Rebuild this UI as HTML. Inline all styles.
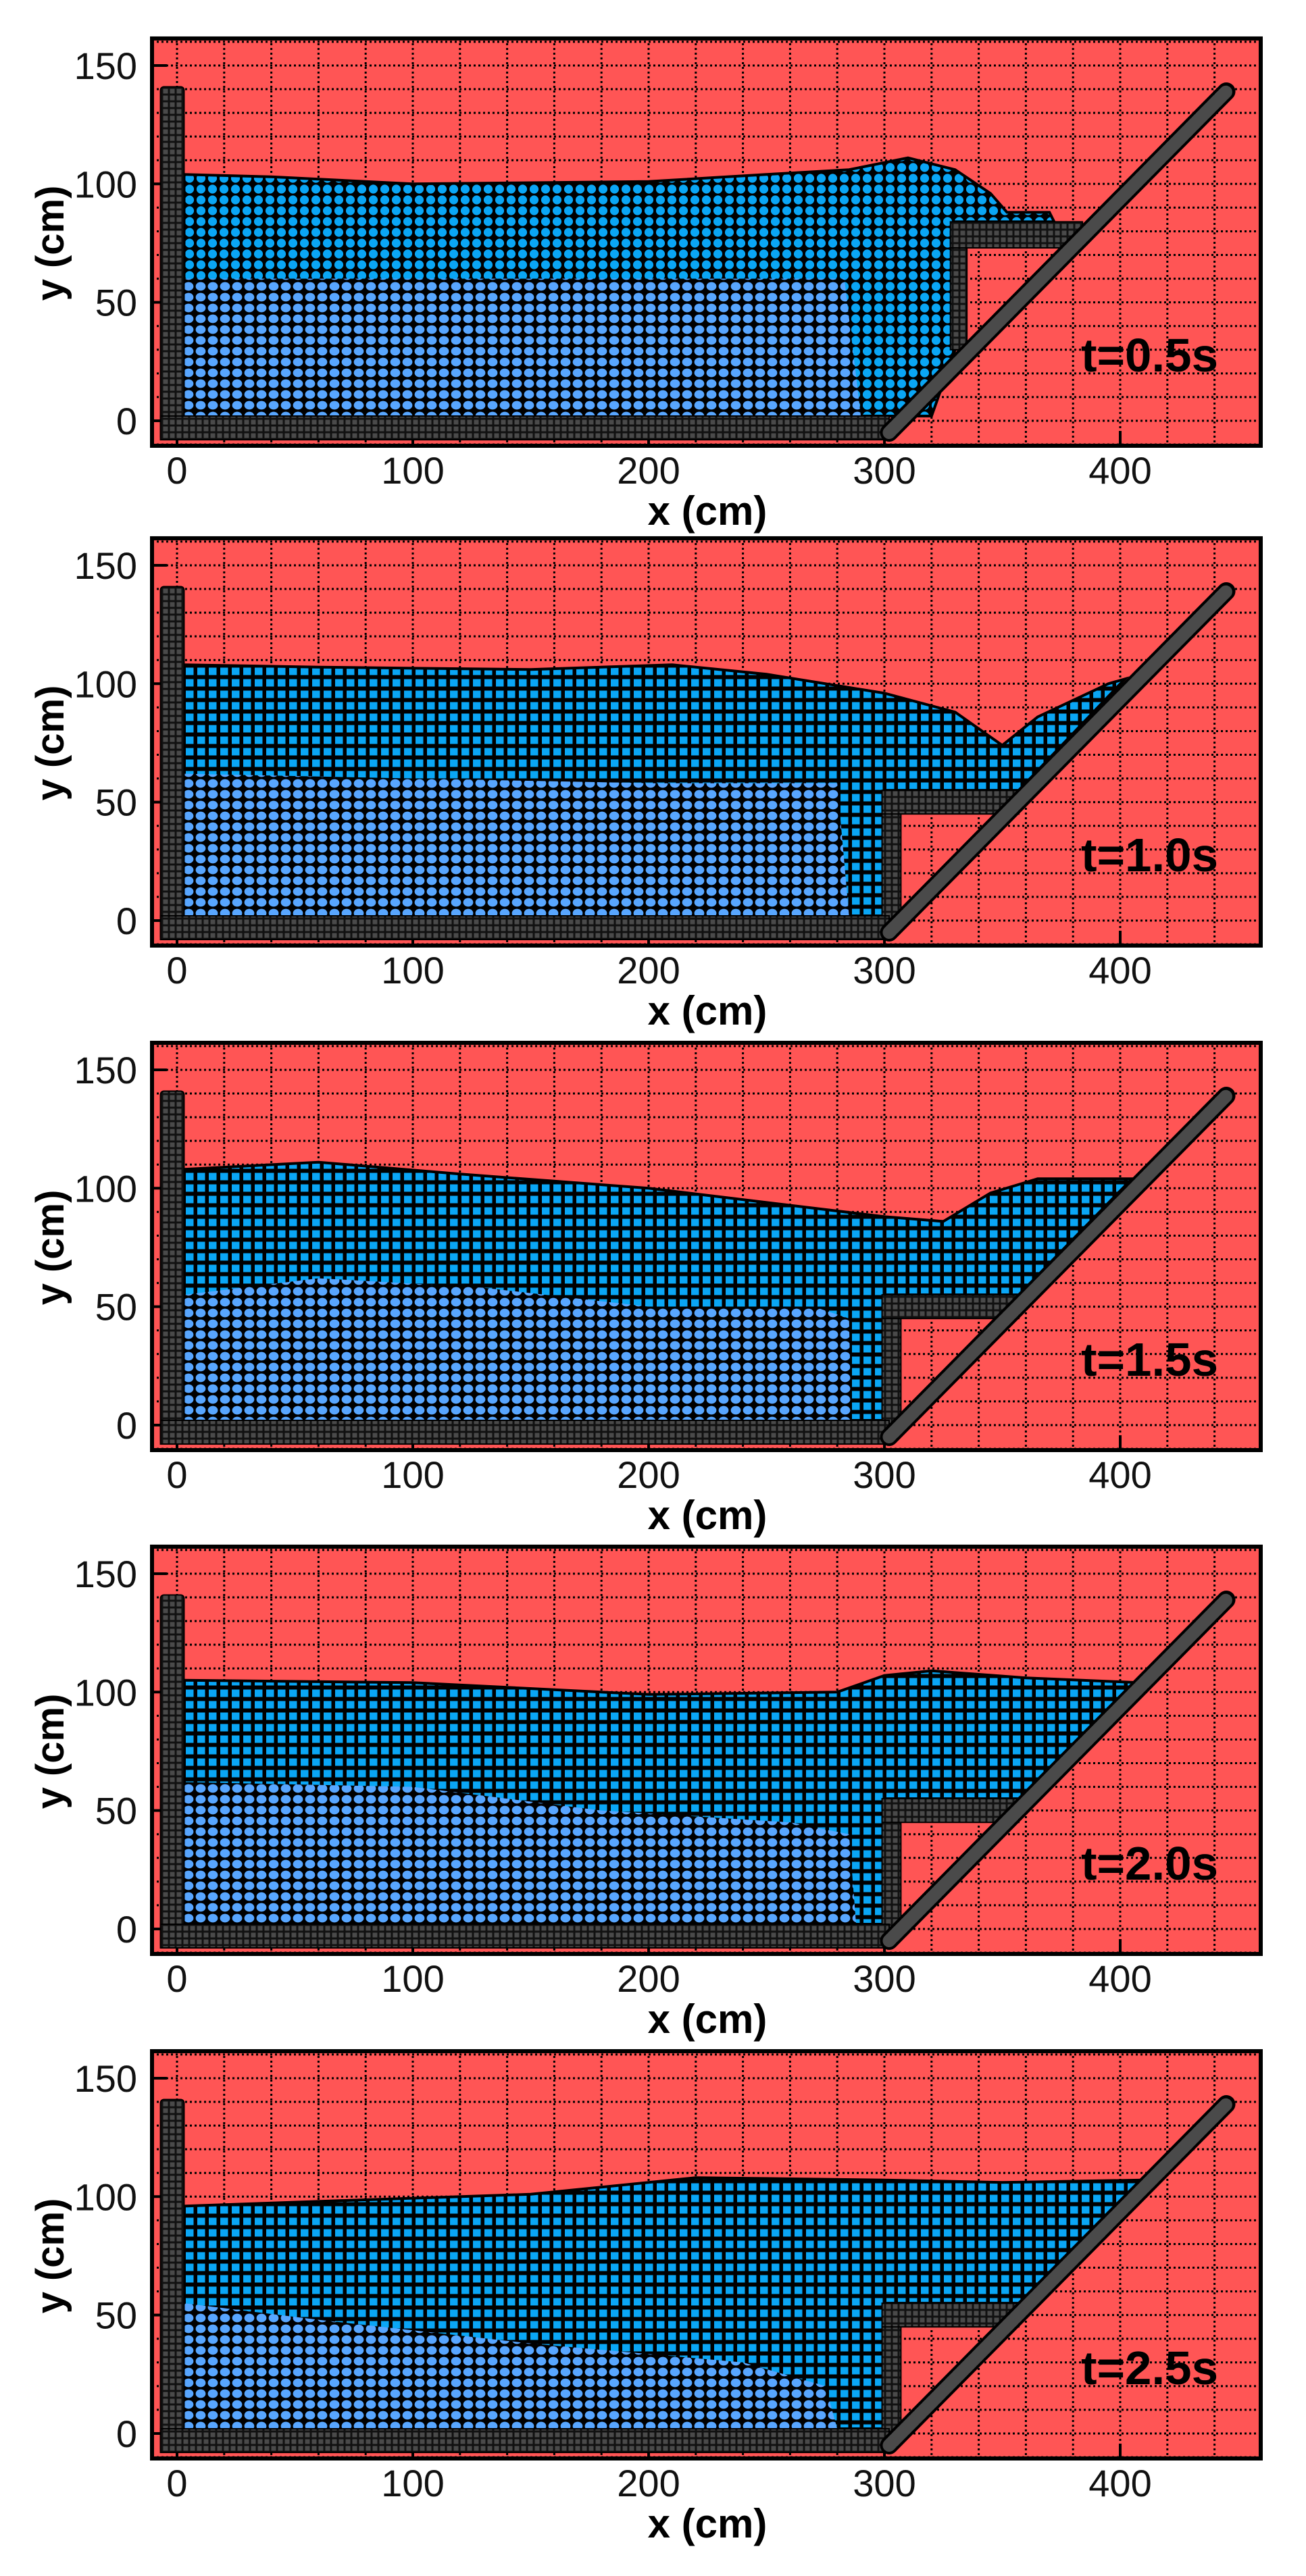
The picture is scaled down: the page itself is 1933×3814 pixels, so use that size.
<!DOCTYPE html>
<html><head><meta charset="utf-8"><style>
html,body{margin:0;padding:0;background:#fff}
svg{display:block}
text{font-family:"Liberation Sans",sans-serif}
</style></head><body>
<svg id="s" width="1933" height="3814" viewBox="0 0 1933 3814" xmlns="http://www.w3.org/2000/svg">
<defs>
<pattern id="sq" width="17" height="17" patternUnits="userSpaceOnUse">
<rect width="17" height="17" fill="#000"/><rect x="3" y="2.5" width="11.5" height="11" fill="#0aa6f5"/>
</pattern>
<pattern id="ci" width="18" height="16" patternUnits="userSpaceOnUse">
<rect width="18" height="16" fill="#000"/><ellipse cx="9" cy="8" rx="7.4" ry="6.4" fill="#58a6ff"/>
</pattern>
<pattern id="ci1" width="17" height="16" patternUnits="userSpaceOnUse">
<rect width="17" height="16" fill="#000"/><circle cx="8.5" cy="8" r="6.6" fill="#0aa6f5"/>
</pattern>
<pattern id="wl" width="10" height="10" patternUnits="userSpaceOnUse">
<rect width="10" height="10" fill="#111"/><rect x="1.5" y="1.5" width="7" height="7" fill="#4a4a4a"/>
</pattern>
</defs>
</svg>
<script>
var s=document.getElementById('s'),h='';
var Y0=[623,1363,2110,2856,3603];
var labels=['t=0.5s','t=1.0s','t=1.5s','t=2.0s','t=2.5s'];
var surf=[
 [[3,104],[40,103],[100,100],[200,101],[250,104],[285,106],[310,111],[330,106],[345,96],[352,88],[370,88],[372,84]],
 [[3,108],[60,107],[150,106],[210,108],[250,104],[300,96],[330,88],[350,74],[365,86],[395,100],[402,102]],
 [[3,108],[60,111],[120,106],[200,100],[250,94],[300,88],[325,86],[345,98],[365,104],[405,104]],
 [[3,105],[100,104],[200,99],[280,100],[300,107],[320,109],[360,106],[408,104]],
 [[3,96],[60,98],[150,101],[220,108],[300,107],[350,106],[410,107]]
];
var light=[
 [[3,2],[3,60],[283,60],[290,2]],
 [[3,2],[3,62],[100,60],[200,58],[280,58],[285,2]],
 [[3,2],[3,55],[60,62],[130,58],[200,50],[270,50],[285,45],[286,2]],
 [[3,2],[3,62],[100,60],[180,50],[260,45],[285,40],[288,2]],
 [[3,2],[3,55],[60,48],[150,38],[240,30],[275,20],[280,2]]
];
for(var p=0;p<5;p++){
 var y0=Y0[p];
 var X=function(c){return 262+c*3.49}, Y=function(c){return y0-c*3.507};
 var tp=Y(150)-40,bt=y0+37,L=225,R=1866;
 h+='<rect x="'+L+'" y="'+tp+'" width="'+(R-L)+'" height="'+(bt-tp)+'" fill="#ff5555"/>';
 for(var gx=0;gx<=460;gx+=20){h+='<line x1="'+X(gx)+'" y1="'+tp+'" x2="'+X(gx)+'" y2="'+bt+'" stroke="#000" stroke-width="3" stroke-dasharray="3 4"/>';}
 for(var gy=-10;gy<=160;gy+=10){var yy=Y(gy);if(yy>tp&&yy<bt)h+='<line x1="'+L+'" y1="'+yy+'" x2="'+R+'" y2="'+yy+'" stroke="#000" stroke-width="3" stroke-dasharray="3 4"/>';}
 for(var t=0;t<=150;t+=50){h+='<line x1="'+L+'" y1="'+Y(t)+'" x2="'+(L+22)+'" y2="'+Y(t)+'" stroke="#000" stroke-width="4"/>';}
 for(var t=0;t<=400;t+=100){h+='<line x1="'+X(t)+'" y1="'+bt+'" x2="'+X(t)+'" y2="'+(bt-22)+'" stroke="#000" stroke-width="4"/>';}
 var sp=surf[p],pts=[];
 if(p==0){
  pts.push([3,2]);sp.forEach(function(q){pts.push(q)});pts.push([368,84]);pts.push([330,84]);pts.push([330,30]);pts.push([320,2]);
 } else {
  pts.push([3,2]);sp.forEach(function(q){pts.push(q)});
  pts.push([357,55]);pts.push([300,55]);pts.push([300,2]);
 }
 var str=pts.map(function(q){return X(q[0])+','+Y(q[1])}).join(' ');
 h+='<polygon points="'+str+'" fill="url(#'+(p==0?'ci1':'sq')+')" stroke="#000" stroke-width="4"/>';
 var ls=light[p].map(function(q){return X(q[0])+','+Y(q[1])}).join(' ');
 h+='<polygon points="'+ls+'" fill="url(#ci)"/>';
 if(p==0){
  h+='<rect x="'+X(328)+'" y="'+Y(80)+'" width="'+(7*3.49)+'" height="'+(50*3.507)+'" fill="url(#wl)" stroke="#000" stroke-width="2"/>';
  h+='<rect x="'+X(328)+'" y="'+Y(84)+'" width="'+(56*3.49)+'" height="'+(11*3.507)+'" fill="url(#wl)" stroke="#000" stroke-width="2"/>';
 } else {
  h+='<rect x="'+X(299)+'" y="'+Y(52)+'" width="'+(8*3.49)+'" height="'+(55*3.507)+'" fill="url(#wl)" stroke="#000" stroke-width="2"/>';
  h+='<rect x="'+X(299)+'" y="'+Y(55)+'" width="'+(58*3.49)+'" height="'+(10*3.507)+'" fill="url(#wl)" stroke="#000" stroke-width="2"/>';
 }
 h+='<rect x="'+X(-7)+'" y="'+Y(141)+'" width="'+(10*3.49)+'" height="'+(149*3.507)+'" rx="5" fill="url(#wl)" stroke="#000" stroke-width="2"/>';
 h+='<rect x="'+X(-7)+'" y="'+Y(2)+'" width="'+(309*3.49)+'" height="'+(10*3.507)+'" fill="url(#wl)" stroke="#000" stroke-width="2"/>';
 h+='<line x1="'+X(302)+'" y1="'+Y(-5)+'" x2="'+X(445)+'" y2="'+Y(139)+'" stroke="#000" stroke-width="27" stroke-linecap="round"/>';
 h+='<line x1="'+X(302)+'" y1="'+Y(-5)+'" x2="'+X(445)+'" y2="'+Y(139)+'" stroke="#4a4a4a" stroke-width="19" stroke-linecap="round" stroke-dasharray="5 3"/>';
 h+='<rect x="'+L+'" y="'+tp+'" width="'+(R-L)+'" height="'+(bt-tp)+'" fill="none" stroke="#000" stroke-width="6"/>';
 for(var t=0;t<=150;t+=50){h+='<text x="203" y="'+(Y(t)+20)+'" font-size="56" text-anchor="end" fill="#111">'+t+'</text>';}
 for(var t=0;t<=400;t+=100){h+='<text x="'+X(t)+'" y="'+(y0+93)+'" font-size="56" text-anchor="middle" fill="#111">'+t+'</text>';}
 h+='<text x="1047" y="'+(y0+154)+'" font-size="60" font-weight="bold" text-anchor="middle">x (cm)</text>';
 h+='<text transform="translate(94,'+Y(75)+') rotate(-90)" font-size="58" font-weight="bold" text-anchor="middle">y (cm)</text>';
 h+='<text x="1600" y="'+(Y(28)+25)+'" font-size="70" font-weight="bold" textLength="203" lengthAdjust="spacingAndGlyphs">'+labels[p]+'</text>';
}
s.insertAdjacentHTML('beforeend',h);
</script>
</body></html>
